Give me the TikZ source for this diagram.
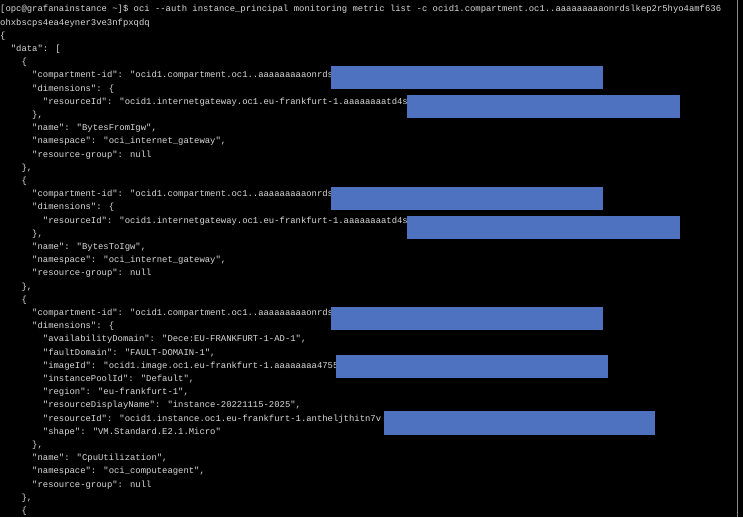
\documentclass[tikz,border=0pt]{standalone}
\usepackage{fontspec}
\newfontfamily\term{Liberation Mono}
\definecolor{termtxt}{HTML}{D9D9D9}
\definecolor{maskblue}{HTML}{4F72C0}
\definecolor{edge}{HTML}{8A8A8A}
\newcommand\tline[3]{\node[txt] (l#1) at ({#2*5.34},{-(11.8+(#1-1)*13.2)}) {#3};}
\begin{document}
\begin{tikzpicture}[x=1pt,y=1pt,
  txt/.style={anchor=base west,inner sep=0pt,text=termtxt,font=\term\fontsize{8.9}{11}\selectfont},
  mask/.style={fill=maskblue,draw=none}]
\fill[black] (0,0) rectangle (743,-517);
\useasboundingbox (0,0) rectangle (743,-517);
\draw[edge,line width=1pt] (737,0) -- (737,-517);
\tline{1}{0}{[opc@grafanainstance \textasciitilde]\$ oci --auth instance\_principal monitoring metric list -c ocid1.compartment.oc1..aaaaaaaaaonrdslkep2r5hyo4amf636}
\tline{2}{0}{ohxbscps4ea4eyner3ve3nfpxqdq}
\tline{3}{0}{\{}
\tline{4}{2}{"data": [}
\tline{5}{4}{\{}
\tline{6}{6}{"compartment-id": "ocid1.compartment.oc1..aaaaaaaaaonrds}
\tline{7}{6}{"dimensions": \{}
\tline{8}{8}{"resourceId": "ocid1.internetgateway.oc1.eu-frankfurt-1.aaaaaaaatd4s}
\tline{9}{6}{\},}
\tline{10}{6}{"name": "BytesFromIgw",}
\tline{11}{6}{"namespace": "oci\_internet\_gateway",}
\tline{12}{6}{"resource-group": null}
\tline{13}{4}{\},}
\tline{14}{4}{\{}
\tline{15}{6}{"compartment-id": "ocid1.compartment.oc1..aaaaaaaaaonrds}
\tline{16}{6}{"dimensions": \{}
\tline{17}{8}{"resourceId": "ocid1.internetgateway.oc1.eu-frankfurt-1.aaaaaaaatd4s}
\tline{18}{6}{\},}
\tline{19}{6}{"name": "BytesToIgw",}
\tline{20}{6}{"namespace": "oci\_internet\_gateway",}
\tline{21}{6}{"resource-group": null}
\tline{22}{4}{\},}
\tline{23}{4}{\{}
\tline{24}{6}{"compartment-id": "ocid1.compartment.oc1..aaaaaaaaaonrds}
\tline{25}{6}{"dimensions": \{}
\tline{26}{8}{"availabilityDomain": "Dece:EU-FRANKFURT-1-AD-1",}
\tline{27}{8}{"faultDomain": "FAULT-DOMAIN-1",}
\tline{28}{8}{"imageId": "ocid1.image.oc1.eu-frankfurt-1.aaaaaaaa4755}
\tline{29}{8}{"instancePoolId": "Default",}
\tline{30}{8}{"region": "eu-frankfurt-1",}
\tline{31}{8}{"resourceDisplayName": "instance-20221115-2025",}
\tline{32}{8}{"resourceId": "ocid1.instance.oc1.eu-frankfurt-1.antheljthitn7v}
\tline{33}{8}{"shape": "VM.Standard.E2.1.Micro"}
\tline{34}{6}{\},}
\tline{35}{6}{"name": "CpuUtilization",}
\tline{36}{6}{"namespace": "oci\_computeagent",}
\tline{37}{6}{"resource-group": null}
\tline{38}{4}{\},}
\tline{39}{4}{\{}
\fill[mask] (331,-66) rectangle (603,-89);
\fill[mask] (407,-95) rectangle (680,-118);
\fill[mask] (331,-187) rectangle (603,-210);
\fill[mask] (407,-216) rectangle (680,-239);
\fill[mask] (331,-307) rectangle (603,-330);
\fill[mask] (336,-355) rectangle (608,-378);
\fill[mask] (384,-411) rectangle (655,-435);
\end{tikzpicture}
\end{document}
